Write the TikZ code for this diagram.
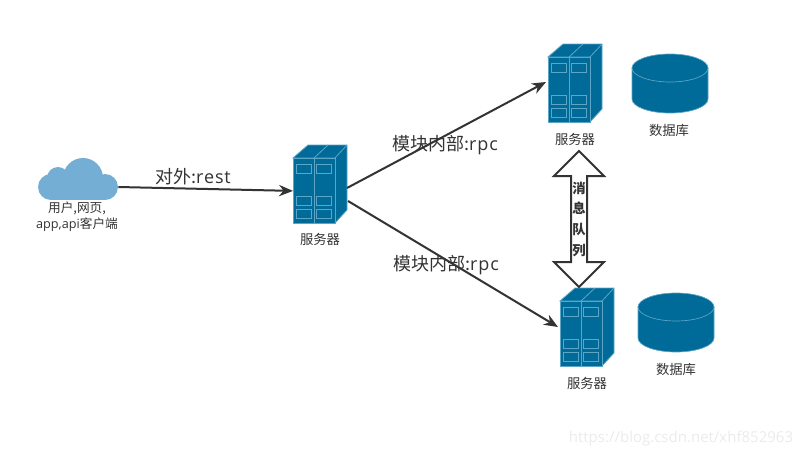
\documentclass[tikz,border=0pt]{standalone}
\usepackage{fontspec}
\usepackage{tikz}
\usetikzlibrary{arrows.meta}
\setmainfont{Open Sans}
\newfontfamily\cjk{Noto Sans CJK SC}
\newfontfamily\cjkmark{Noto Sans CJK TC}
\newfontfamily\widelatin{Open Sans}[LetterSpace=5]

\definecolor{srvblue}{RGB}{0,107,153}
\definecolor{srvedge}{RGB}{92,165,198}
\definecolor{cloudblue}{RGB}{116,174,212}
\definecolor{inkgrey}{RGB}{51,51,51}

\tikzset{
  flow/.style={draw=inkgrey,line width=1.5pt,-{Stealth[length=10.5pt,width=8.5pt]}},
  smalltext/.style={inner sep=0.75pt,text=inkgrey,font=\cjk\fontsize{10}{12}\selectfont},
  bigtext/.style={inner sep=0.75pt,text=inkgrey,font=\fontsize{13.5}{16}\selectfont},
  srvface/.style={fill=srvblue,draw=srvedge,line width=0.6pt},
  srvslot/.style={draw=srvedge,line width=0.6pt},
  server/.pic={
    \begin{scope}[yscale=-1]
    %Side and top faces
    \draw [srvface] (0,0) -- (15,-13) -- (54,-13) -- (54,52) -- (42,65) -- (42,0) -- cycle ;
    \draw [srvedge,line width=0.6pt] (42,0) -- (54,-13) ;
    \draw [srvedge,line width=0.6pt] (21,0) -- (35,-13) ;
    %Front face
    \node (-front) [srvface,anchor=north west,minimum width=31.5pt,minimum height=48.75pt,inner sep=0pt] at (0,0) {};
    \draw [srvedge,line width=0.6pt] (21,0) -- (21,65) ;
    %Slots
    \foreach \sx in {3,23} {
      \foreach \sy in {6,38,51} {
        \draw [srvslot] (\sx,\sy) rectangle ++(15,9) ;
      }
    }
    \end{scope}
  },
  database/.pic={
    \begin{scope}[yscale=-1]
    \draw [fill=srvblue,draw=srvedge,line width=0.5pt] (-38,0) -- (-38,31) arc [start angle=180,end angle=0,x radius=38,y radius=14] -- (38,0) -- cycle ;
    \draw [fill=srvblue,draw=srvedge,line width=0.5pt] (0,0) ellipse [x radius=38,y radius=14] ;
    \end{scope}
  }
}

\begin{document}
\begin{tikzpicture}[x=0.75pt,y=0.75pt,yscale=-1]
\useasboundingbox (0,0) rectangle (802,457);

%Shape: Cloud
\fill [cloudblue] (83,178) circle [radius=20] ;
\fill [cloudblue] (58,178) circle [radius=11] ;
\fill [cloudblue] (51,187) circle [radius=13] ;
\fill [cloudblue] (105,187) circle [radius=13] ;
\fill [cloudblue] (51,178) rectangle (105,200) ;
\node (cloud) [minimum width=60pt,minimum height=19.5pt,inner sep=0pt] at (78,187) {};

%Servers
\pic (srvGate) at (293,158) {server};
\pic (srvUp) at (548,57) {server};
\pic (srvDown) at (560,301) {server};

%Databases
\pic (dbUp) at (670,68) {database};
\pic (dbDown) at (676,307) {database};

%Connector ends
\coordinate (gateOutUp) at (347,188);
\coordinate (gateOutDown) at (348,201);
\coordinate (upIn) at (546,82);
\coordinate (downIn) at (558,327);

%Straight Lines
\draw [flow] (cloud.east) -- (srvGate-front.west) ;
\draw [flow] (gateOutUp) -- (upIn) ;
\draw [flow] (gateOutDown) -- (downIn) ;

%Up Down Arrow
\draw [fill=white,draw=inkgrey,line width=1.5pt] (579,151) -- (604,176) -- (587,176) -- (587,262) -- (604,262) -- (579,287) -- (554,262) -- (571,262) -- (571,176) -- (554,176) -- cycle ;

% Text Node
\draw (579,219) node (queueText) [inner sep=0pt,text=inkgrey,align=center,font=\cjk\bfseries\fontsize{10}{15.5}\selectfont] {消\\息\\队\\列};
% Text Node
\draw (193,177) node (restText) [bigtext] {{\cjk 对外}{\cjkmark :}{\widelatin rest}};
% Text Node
\draw (445,145) node (rpcUpText) [bigtext] {{\cjk 模块内部}{\cjkmark :}{\widelatin rpc}};
% Text Node
\draw (446,265) node (rpcDownText) [bigtext] {{\cjk 模块内部}{\cjkmark :}{\widelatin rpc}};
% Text Node
\draw (77,217) node (cloudText) [inner sep=0.75pt,text=inkgrey,align=center,font=\fontsize{9.5}{12}\selectfont] {{\cjk 用户}{\cjkmark ,}{\cjk 网页}{\cjkmark ,}\\app,api{\cjk 客户端}};
% Text Node
\draw (320,239) node (srvGateText) [smalltext] {服务器};
% Text Node
\draw (575,139) node (srvUpText) [smalltext] {服务器};
% Text Node
\draw (587,383) node (srvDownText) [smalltext] {服务器};
% Text Node
\draw (669,130) node (dbUpText) [smalltext] {数据库};
% Text Node
\draw (676,369) node (dbDownText) [smalltext] {数据库};
% Text Node
\draw (681,439) node (markText) [inner sep=0pt,text=black!8,font=\fontsize{11.25}{14}\selectfont] {https://blog.csdn.net/xhf852963};
\end{tikzpicture}
\end{document}
